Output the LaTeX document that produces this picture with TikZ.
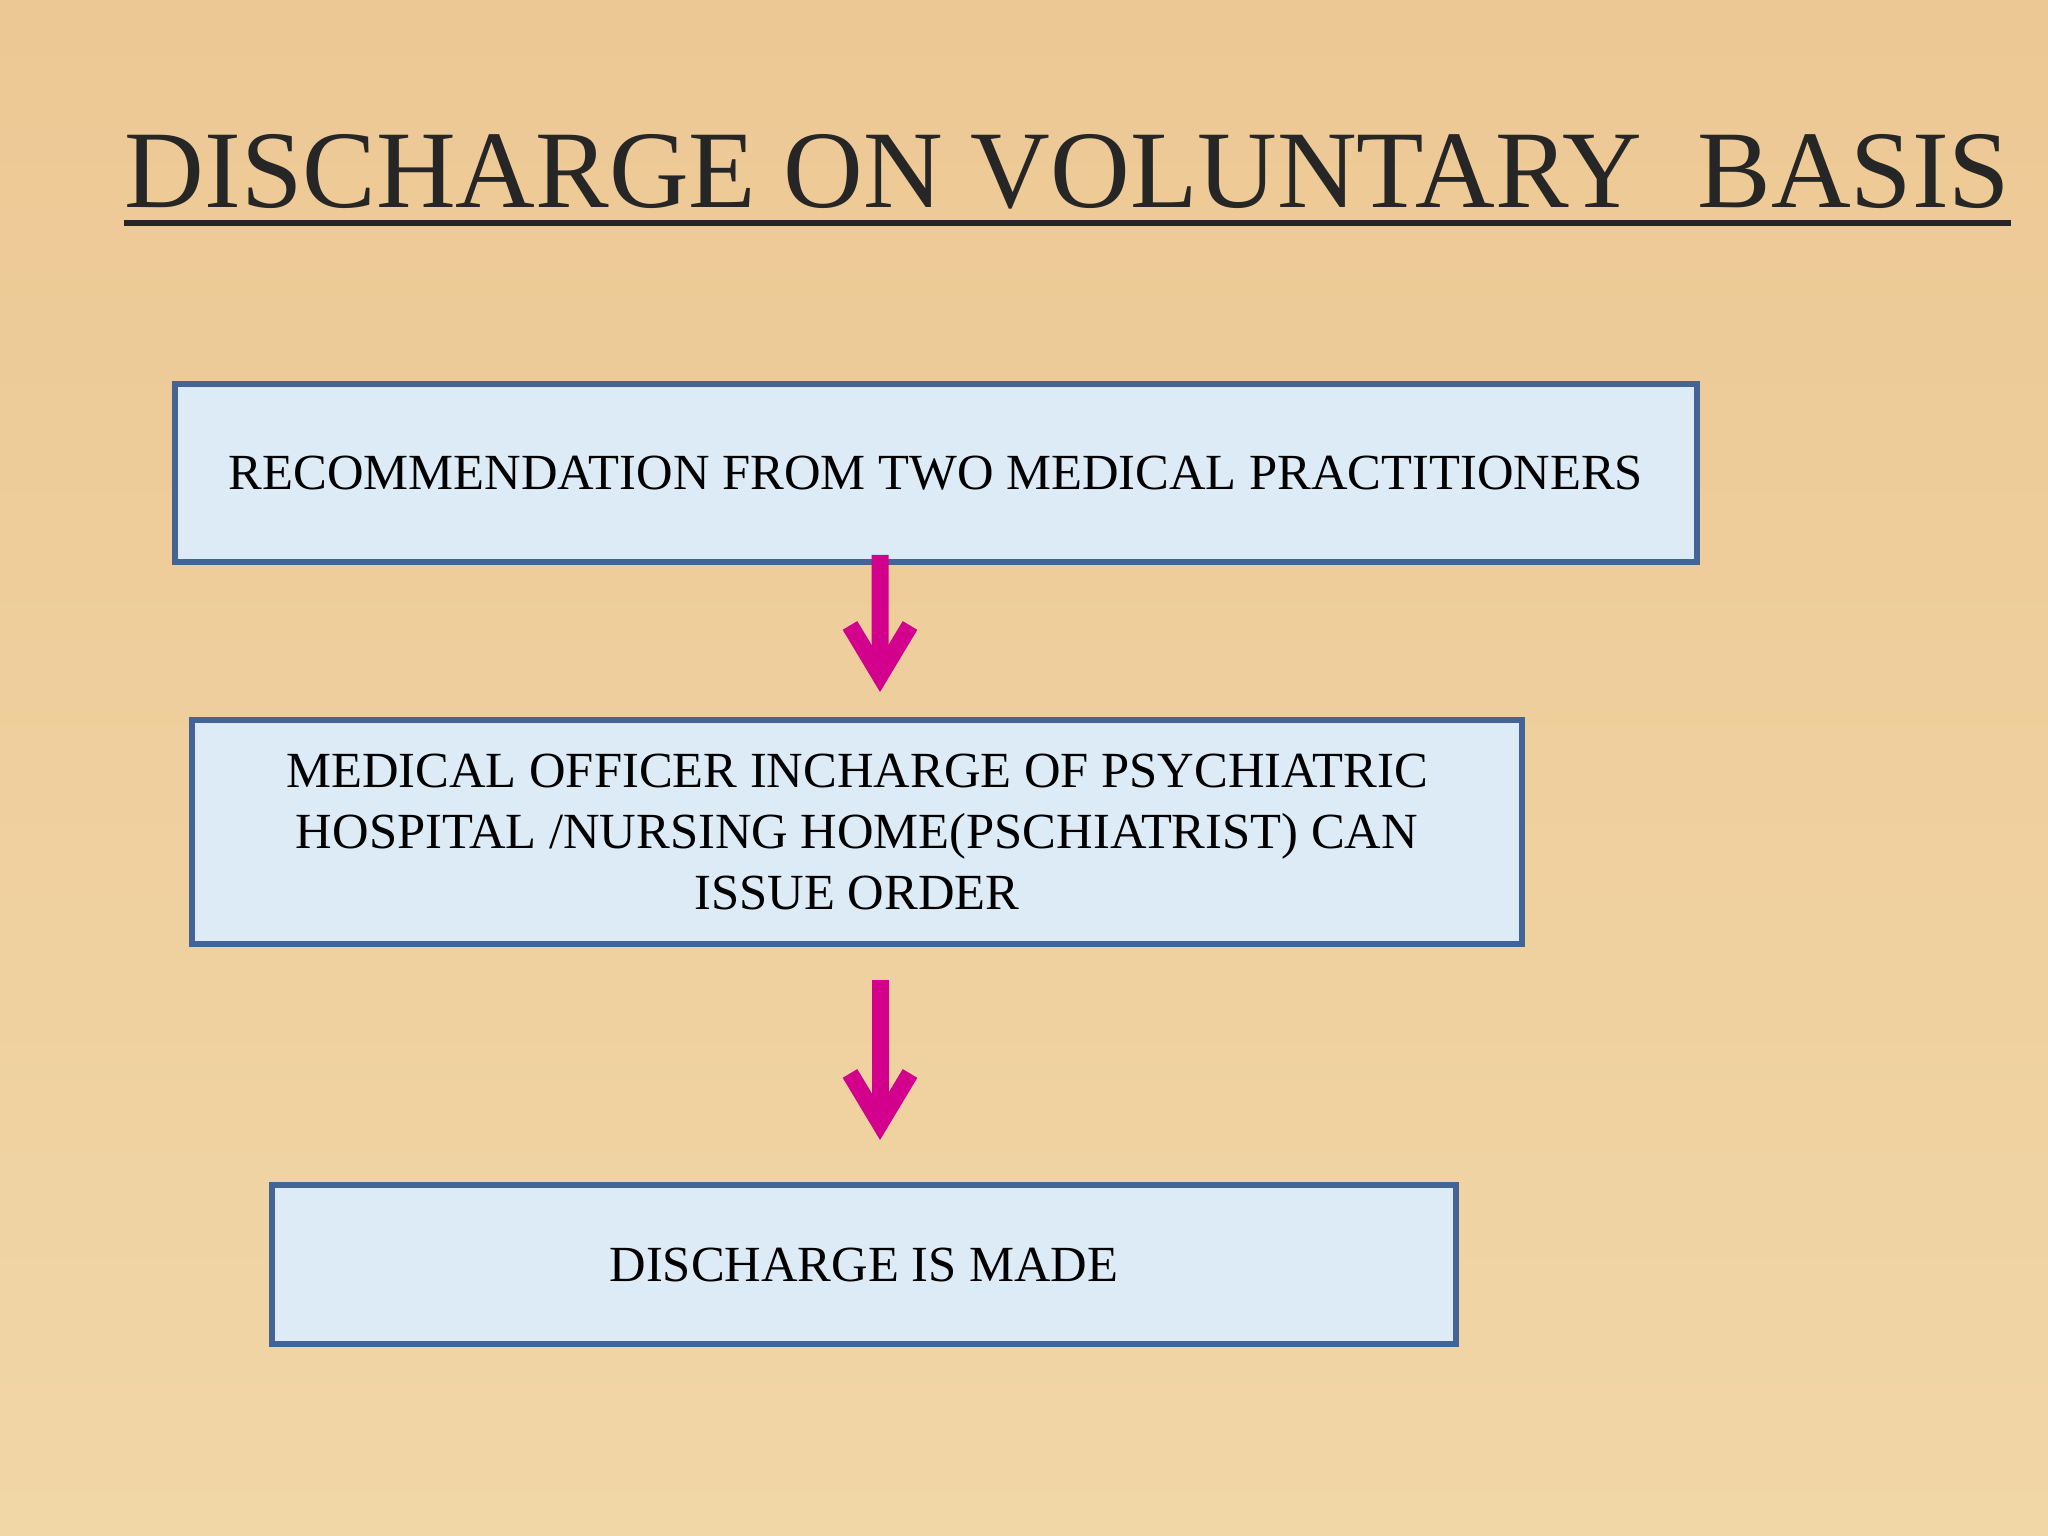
\documentclass[tikz,border=0pt]{standalone}
\usepackage{fontspec}
\setmainfont{Liberation Serif}
\usetikzlibrary{arrows.meta, calc, positioning}
\usepackage{xcolor}
\definecolor{sandtop}{RGB}{236,200,148}
\definecolor{sandmid}{RGB}{231,183,140}
\definecolor{sandbot}{RGB}{241,214,166}
\definecolor{paleblue}{RGB}{220,235,245}
\definecolor{steelblue}{RGB}{66,100,150}
\definecolor{flowpink}{RGB}{210,0,140}

\begin{document}
\begin{tikzpicture}[
    stepbox/.style={draw=steelblue, line width=0.6mm, fill=paleblue, align=center,
        font=\fontsize{14.4}{17.4}\selectfont, inner sep=0pt},
    flow/.style={flowpink, line width=1.7mm, -{Straight Barb[length=5mm, width=6mm]}}
]
    % Background
    \shade[top color=sandtop, middle color=sandmid, bottom color=sandbot]
        (0,0) rectangle (20.48,-15.36);
    \useasboundingbox (0,0) rectangle (20.48,-15.36);

    % Title
    \node[anchor=base west, inner sep=0pt, font=\fontsize{31.4}{36}\selectfont,
        text=black!85] (title) at (1.24,-2.08) {DISCHARGE ON VOLUNTARY\ \ BASIS};
    \draw[black!85, line width=0.6mm] ($(title.base west)+(0,-0.15)$) -- ($(title.base east)+(0,-0.15)$);

    % Boxes
    \node[stepbox, minimum width=15.22cm, minimum height=1.78cm] (recommend) at (9.36,-4.73)
        {RECOMMENDATION FROM TWO MEDICAL PRACTITIONERS};
    \node[stepbox, minimum width=13.30cm, minimum height=2.24cm] (officer) at (8.57,-8.32)
        {MEDICAL OFFICER INCHARGE OF PSYCHIATRIC\\HOSPITAL /NURSING HOME(PSCHIATRIST) CAN\\ISSUE ORDER};
    \node[stepbox, minimum width=11.84cm, minimum height=1.59cm] (made) at (8.64,-12.645)
        {DISCHARGE IS MADE};

    % Arrows
    \coordinate (from1) at ($(recommend.south)+(-0.56,0.1)$);
    \coordinate (to1) at ($(officer.north)+(0.23,0.25)$);
    \coordinate (from2) at ($(officer.south)+(0.23,-0.33)$);
    \coordinate (to2) at ($(made.north)+(0.16,0.42)$);
    \draw[flow] (from1) -- (to1);
    \draw[flow] (from2) -- (to2);
\end{tikzpicture}
\end{document}
